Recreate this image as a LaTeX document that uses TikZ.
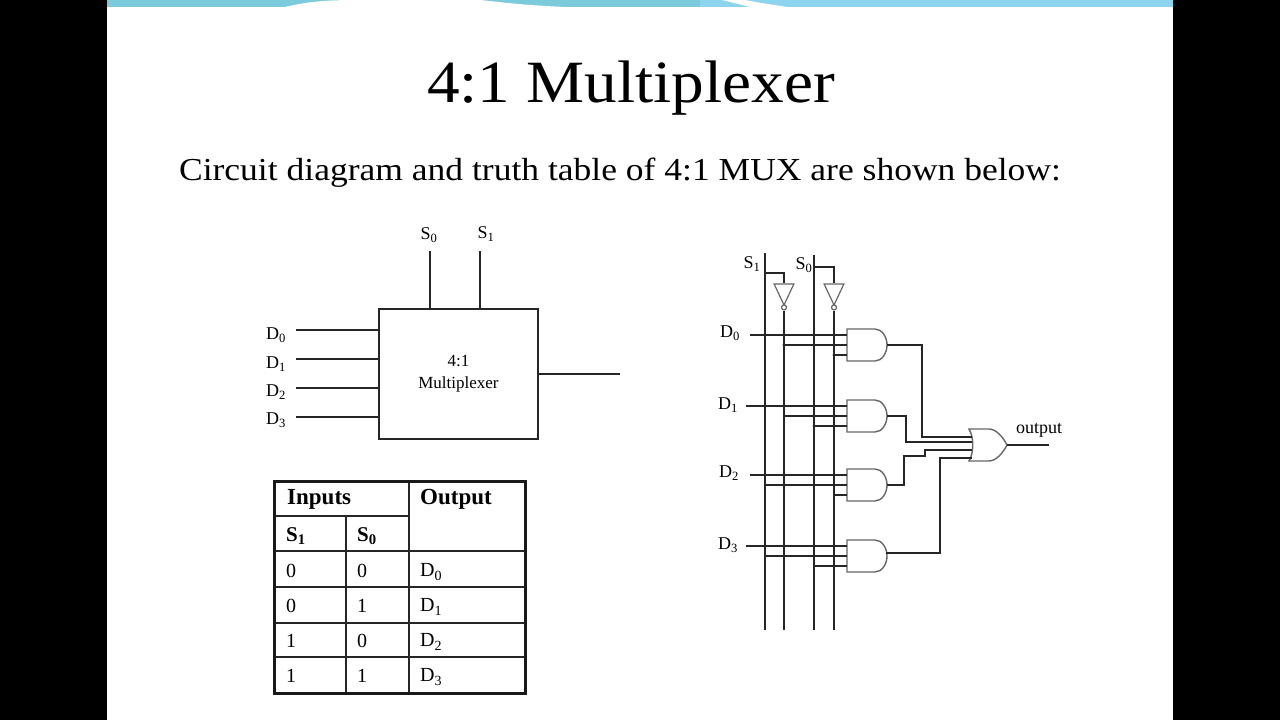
\documentclass[tikz,border=0pt]{standalone}
\usepackage{fontspec}
\setmainfont{Liberation Serif}
\usetikzlibrary{positioning, shapes.gates.logic.US}
\definecolor{bandleft}{HTML}{7CCBDD}
\definecolor{bandright}{HTML}{8DD4EE}

\begin{document}
\begin{tikzpicture}[x=1pt, y=-1pt]
    \tikzset{
        lab/.style = {inner sep=0pt, font=\fontsize{18}{20}\selectfont},
        wire/.style = {draw=black!85, line width=1.4pt},
        gateline/.style = {draw=black!60, line width=1.4pt},
        notgate/.style = {not gate US, draw=black!60, line width=1.2pt, rotate=-90, minimum width=23pt, minimum height=17pt, inner sep=0pt, logic gate inverted radius=2.5pt},
        joint/.style = {circle, fill=black!85, inner sep=0pt, minimum size=3.5pt},
        cell/.style = {inner sep=0pt, anchor=west, font=\fontsize{20}{22}\selectfont},
        head/.style = {cell, font=\fontsize{23}{25}\selectfont\bfseries},
        gridline/.style = {draw=black!85, line width=1.2pt},
        tableframe/.style = {draw=black!90, line width=3pt},
        andgate/.pic = {
            \path [gateline] (-20,-16) -- (8,-16) .. controls (15,-16) and (20,-8) .. (20,0) .. controls (20,8) and (15,16) .. (8,16) -- (-20,16) -- cycle;
            \coordinate (-in1) at (-20,-10);
            \coordinate (-in2) at (-20,0);
            \coordinate (-in3) at (-20,10);
            \coordinate (-out) at (20,0);
        },
        orgate/.pic = {
            \path [gateline] (-19,-16) -- (1,-16) .. controls (8,-16) and (15,-8) .. (19,0) .. controls (15,8) and (8,16) .. (1,16) -- (-19,16) .. controls (-14,8) and (-14,-8) .. (-19,-16) -- cycle;
            \coordinate (-in1) at (-16,-8);
            \coordinate (-in2) at (-16,-3);
            \coordinate (-in3) at (-16,5);
            \coordinate (-in4) at (-16,13);
            \coordinate (-out) at (19,0);
        }
    }

    % slide
    \fill[black] (0,0) rectangle (1280,720);
    \fill[white] (107,0) rectangle (1173,720);
    \fill[bandleft] (107,0) rectangle (700,7);
    \fill[bandright] (700,0) rectangle (1173,7);
    \fill[white] (285,7) .. controls (310,1) and (330,0) .. (360,0) -- (480,0) .. controls (500,2) and (520,5) .. (565,7) -- cycle;
    \fill[white] (722,0) -- (745,0) .. controls (760,3) and (775,5) .. (787,7) -- (750,7) -- cycle;
    \useasboundingbox (0,0) rectangle (1280,720);

    \node[inner sep=0pt, anchor=base, xscale=1.088, font=\fontsize{60}{62}\selectfont](title) at (631,102){4:1 Multiplexer};
    \node[inner sep=0pt, anchor=base, xscale=1.11, font=\fontsize{32}{34}\selectfont](sub) at (620,180){Circuit diagram and truth table of 4:1 MUX are shown below:};

    % block
    \node[draw=black!85, line width=1.3pt, minimum width=159pt, minimum height=130pt, inner sep=0pt, align=center, font=\fontsize{17}{22}\selectfont](mux) at (458.5,374){\raisebox{-1pt}{4:1}\\[1pt]Multiplexer};

    \coordinate(s0top) at (430,251);
    \coordinate(s1top) at (480,251);
    \node[lab](s0lab) at (429,235){S\textsubscript{0}};
    \node[lab](s1lab) at (486,234){S\textsubscript{1}};
    \path [wire] (s0top) -- (s0top |- mux.north);
    \path [wire] (s1top) -- (s1top |- mux.north);

    \node[lab](d0lab) at (276,335){D\textsubscript{0}};
    \node[lab](d1lab) at (276,364){D\textsubscript{1}};
    \node[lab](d2lab) at (276,392){D\textsubscript{2}};
    \node[lab](d3lab) at (276,420){D\textsubscript{3}};
    \coordinate(d0in) at (296,330);
    \coordinate(d1in) at (296,359);
    \coordinate(d2in) at (296,388);
    \coordinate(d3in) at (296,417);
    \path [wire] (d0in) -- (d0in -| mux.west);
    \path [wire] (d1in) -- (d1in -| mux.west);
    \path [wire] (d2in) -- (d2in -| mux.west);
    \path [wire] (d3in) -- (d3in -| mux.west);
    \coordinate(muxout) at (620,374);
    \path [wire] (mux.east |- muxout) -- (muxout);

    % table
    \coordinate(tl) at (274,481);
    \coordinate(br) at (525,693);
    \path [gridline] (409,481) -- (409,693);
    \path [gridline] (346,516) -- (346,693);
    \path [gridline] (274,516) -- (409,516);
    \path [gridline] (274,551) -- (525,551);
    \path [gridline] (274,587) -- (525,587);
    \path [gridline] (274,623) -- (525,623);
    \path [gridline] (274,657) -- (525,657);
    \path [tableframe] (tl) rectangle (br);

    \node[head](inputs) at (287,499.5){Inputs};
    \node[head](outhead) at (420,499.5){Output};
    \node[head, font=\fontsize{21}{23}\selectfont\bfseries](ts1) at (286,536){S\textsubscript{1}};
    \node[head, font=\fontsize{21}{23}\selectfont\bfseries](ts0) at (357,536){S\textsubscript{0}};
    \node[cell](a0) at (286,571){0};
    \node[cell](b0) at (357,571){0};
    \node[cell](c0) at (420,572){D\textsubscript{0}};
    \node[cell](a1) at (286,606){0};
    \node[cell](b1) at (357,606){1};
    \node[cell](c1) at (420,607){D\textsubscript{1}};
    \node[cell](a2) at (286,641){1};
    \node[cell](b2) at (357,641){0};
    \node[cell](c2) at (420,642){D\textsubscript{2}};
    \node[cell](a3) at (286,676){1};
    \node[cell](b3) at (357,676){1};
    \node[cell](c3) at (420,677){D\textsubscript{3}};

    % gates
    \pic (and0) at (867,345) {andgate};
    \pic (and1) at (867,416) {andgate};
    \pic (and2) at (867,485) {andgate};
    \pic (and3) at (867,556) {andgate};
    \pic (orout) at (988,445) {orgate};
    \node[notgate](not1) at (784,291){};
    \node[notgate](not0) at (834,291){};

    \node[lab](sellab1) at (752,264){S\textsubscript{1}};
    \node[lab](sellab0) at (804,265){S\textsubscript{0}};
    \node[lab](dlab0) at (730,333){D\textsubscript{0}};
    \node[lab](dlab1) at (728,405){D\textsubscript{1}};
    \node[lab](dlab2) at (729,473){D\textsubscript{2}};
    \node[lab](dlab3) at (728,545){D\textsubscript{3}};
    \node[lab](outlab) at (1039,430){output};

    % select lines
    \coordinate(s1t) at (765,253);
    \coordinate(s1b) at (765,630);
    \coordinate(s0t) at (814,255);
    \coordinate(s0b) at (814,630);
    \coordinate(n1b) at (784,630);
    \coordinate(n0b) at (834,630);
    \coordinate(s1br) at (765,273);
    \coordinate(s0br) at (814,267);
    \path [wire] (s1t) -- (s1b);
    \path [wire] (s0t) -- (s0b);
    \path [wire] (s1br) -| (not1.input);
    \path [wire] (s0br) -| (not0.input);
    \path [wire] (not1.output) -- (n1b);
    \path [wire] (not0.output) -- (n0b);

    % gate inputs
    \path [wire] (750,0 |- and0-in1) -- (and0-in1);
    \path [wire] (n1b |- and0-in2) -- (and0-in2);
    \path [wire] (n0b |- and0-in3) -- (and0-in3);
    \path [wire] (746,0 |- and1-in1) -- (and1-in1);
    \path [wire] (n1b |- and1-in2) -- (and1-in2);
    \path [wire] (s0b |- and1-in3) -- (and1-in3);
    \path [wire] (750,0 |- and2-in1) -- (and2-in1);
    \path [wire] (s1b |- and2-in2) -- (and2-in2);
    \path [wire] (n0b |- and2-in3) -- (and2-in3);
    \path [wire] (746,0 |- and3-in1) -- (and3-in1);
    \path [wire] (s1b |- and3-in2) -- (and3-in2);
    \path [wire] (s0b |- and3-in3) -- (and3-in3);
    \node[joint](j0) at (n1b |- and0-in2){};
    \node[joint](j1) at (n0b |- and0-in3){};
    \node[joint](j2) at (s0b |- and1-in3){};

    % gate outputs
    \coordinate(o3) at (886,553);
    \coordinate(bend0) at (922,345);
    \coordinate(bend1) at (906,416);
    \coordinate(bend2) at (904,456);
    \coordinate(step2) at (925,456);
    \coordinate(bend3) at (940,553);
    \coordinate(endout) at (1049,445);
    \path [wire] (and0-out) -- (bend0) |- (orout-in1);
    \path [wire] (and1-out) -- (bend1) |- (orout-in2);
    \path [wire] (and2-out) -| (bend2) -- (step2) |- (orout-in3);
    \path [wire] (o3) -- (bend3) |- (orout-in4);
    \path [wire] (orout-out) -- (endout);

\end{tikzpicture}
\end{document}
